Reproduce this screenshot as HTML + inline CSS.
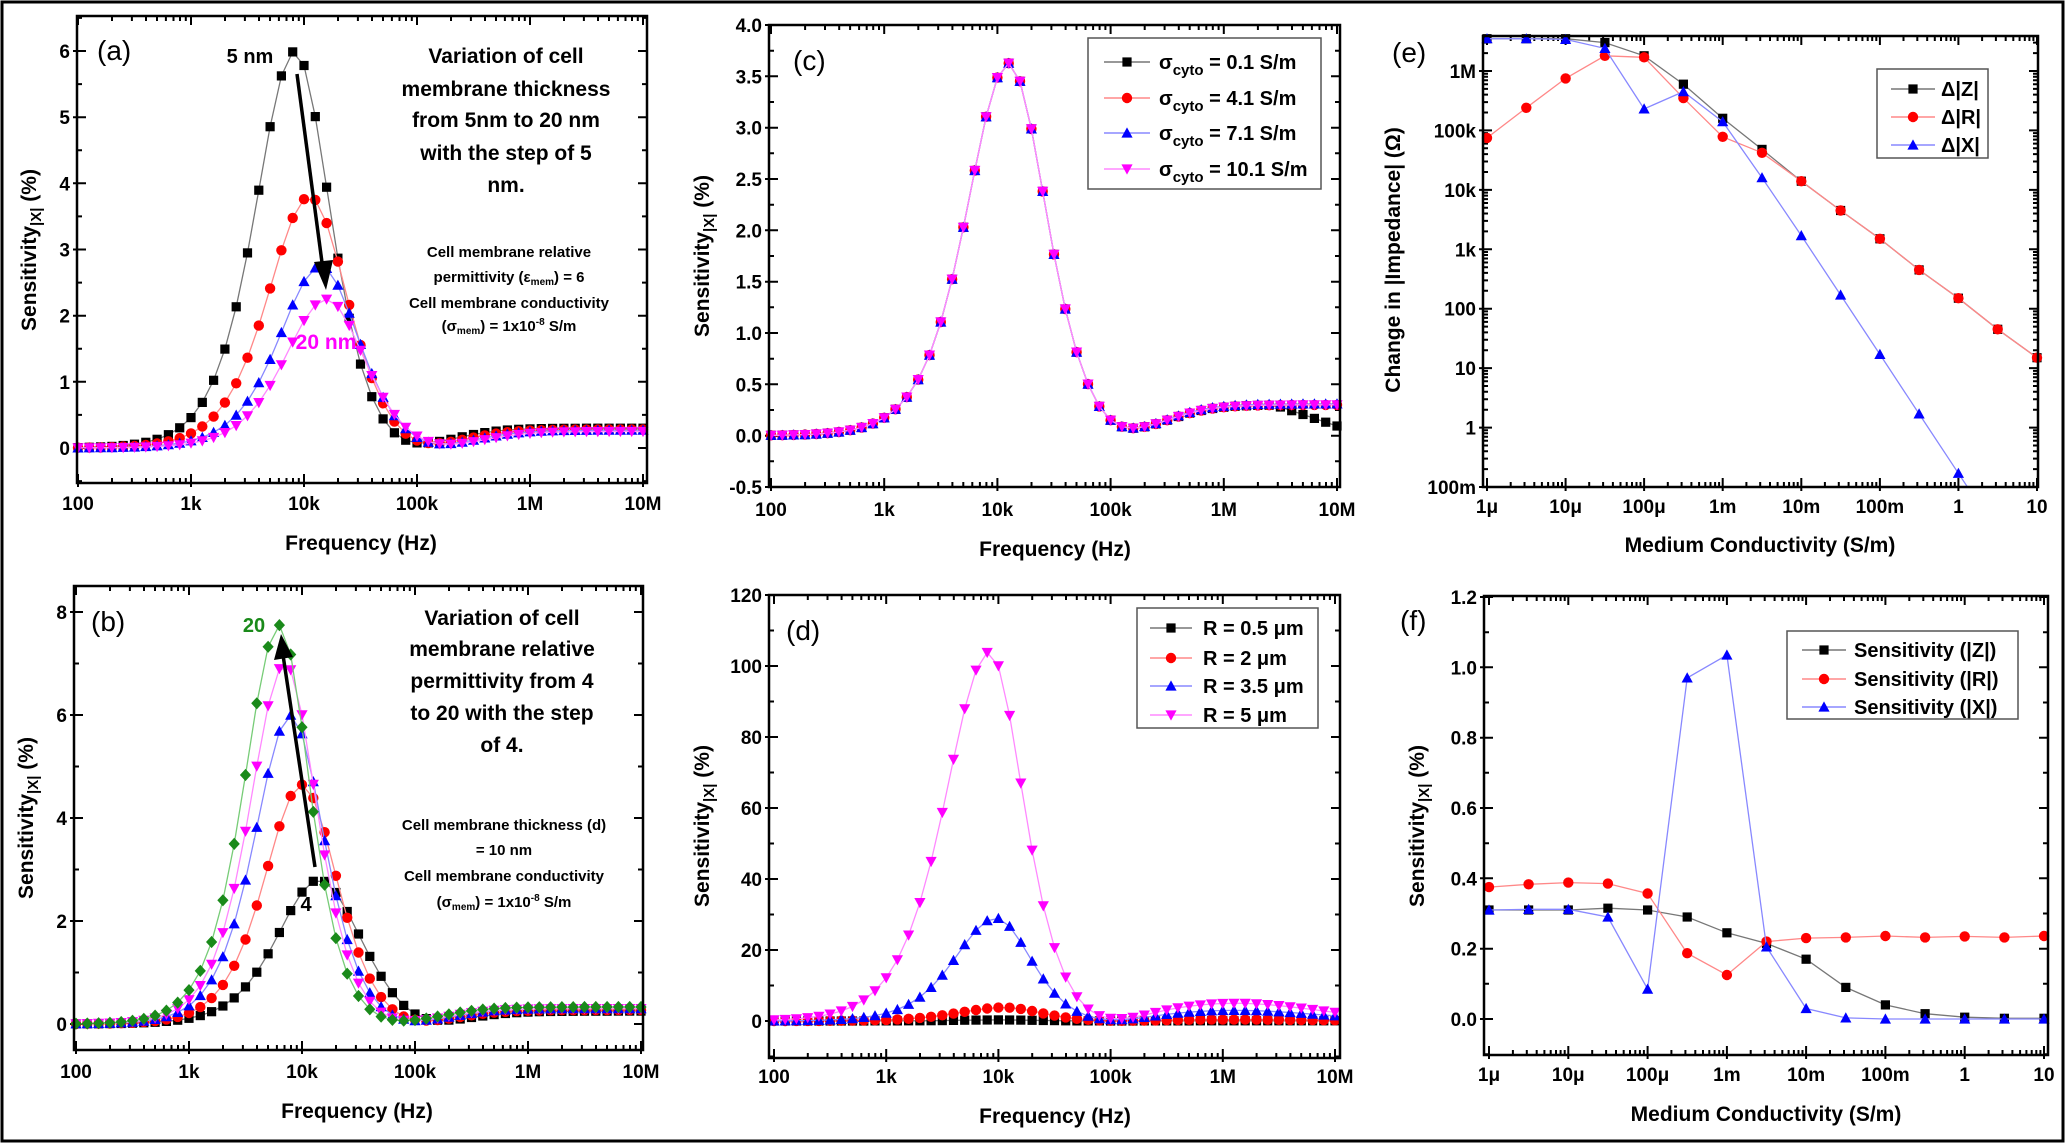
<!DOCTYPE html>
<html><head><meta charset="utf-8"><style>
html,body{margin:0;padding:0;background:#fff;overflow:hidden}
svg{display:block}
text{font-family:"Liberation Sans",Arial,sans-serif}
</style></head><body>
<svg id="s" width="2065" height="1143" viewBox="0 0 2065 1143" xmlns="http://www.w3.org/2000/svg"></svg>
<script>
var out=[];
function add(s){out.push(s);}
add('<rect x="0" y="0" width="2065" height="1143" fill="#fff"/>');
add('<rect x="2" y="2" width="2061" height="1139" fill="none" stroke="#000" stroke-width="3"/>');
var clipId=0;
function r1(v){return Math.round(v*10)/10;}
function marker(t,x,y,c){var s=4.6;x=Number(x);y=Number(y);
 if(t=='sq')return '<rect x="'+r1(x-s)+'" y="'+r1(y-s)+'" width="'+(2*s)+'" height="'+(2*s)+'" fill="'+c+'"/>';
 if(t=='ci')return '<circle cx="'+r1(x)+'" cy="'+r1(y)+'" r="'+(s+0.6)+'" fill="'+c+'"/>';
 if(t=='tu')return '<polygon points="'+r1(x)+','+r1(y-s-1)+' '+r1(x+s+1)+','+r1(y+s)+' '+r1(x-s-1)+','+r1(y+s)+'" fill="'+c+'"/>';
 if(t=='td')return '<polygon points="'+r1(x)+','+r1(y+s+1)+' '+r1(x+s+1)+','+r1(y-s)+' '+r1(x-s-1)+','+r1(y-s)+'" fill="'+c+'"/>';
 if(t=='di')return '<polygon points="'+r1(x)+','+r1(y-s-1.5)+' '+r1(x+s+1)+','+r1(y)+' '+r1(x)+','+r1(y+s+1.5)+' '+r1(x-s-1)+','+r1(y)+'" fill="'+c+'"/>';
}
function panel(P){
 var X=function(L){return P.xp0+(L-P.xl0)/(P.xl1-P.xl0)*(P.xp1-P.xp0);};
 var Y=P.ylog?function(v){var l=Math.log10(Math.max(v,1e-9));return P.yp0+(l-P.yv0)/(P.yv1-P.yv0)*(P.yp1-P.yp0);}
   :function(v){return P.yp0+(v-P.yv0)/(P.yv1-P.yv0)*(P.yp1-P.yp0);};
 var id='c'+(clipId++);
 add('<clipPath id="'+id+'"><rect x="'+P.l+'" y="'+(P.t-8)+'" width="'+(P.r-P.l+8)+'" height="'+(P.b-P.t+8)+'"/></clipPath>');
 var tk='';
 for(var d=P.xl0;d<=P.xl1+1e-9;d++){var x=r1(X(d));
  tk+='M'+x+' '+P.b+'v-9M'+x+' '+P.t+'v9M'+x+' '+P.b+'v4';
  if(d<P.xl1)for(var k=2;k<10;k++){var xm=r1(X(d+Math.log10(k)));tk+='M'+xm+' '+P.b+'v-5M'+xm+' '+P.t+'v5';}
  add('<text x="'+x+'" y="'+P.xly+'" font-size="19" font-weight="bold" text-anchor="middle">'+P.xlab[d-P.xl0]+'</text>');
 }
 if(P.ylog){for(var d=P.yv1;d<=P.yv0;d++){var y=r1(Y(Math.pow(10,d)));
   tk+='M'+P.l+' '+y+'h9M'+P.r+' '+y+'h-9M'+P.l+' '+y+'h-4';
   for(var k=2;k<10;k++){var ym=r1(Y(Math.pow(10,d+Math.log10(k))));if(ym>=P.t)tk+='M'+P.l+' '+ym+'h5M'+P.r+' '+ym+'h-5';}
   add('<text x="'+(P.l-7)+'" y="'+(y+7)+'" font-size="19" font-weight="bold" text-anchor="end">'+P.ylab[d-P.yv1]+'</text>');}
 } else {
  var i=0;for(var v=P.yt0;v<=P.yt1+1e-9;v+=P.ystep){var y=r1(Y(v));
   tk+='M'+P.l+' '+y+'h9M'+P.r+' '+y+'h-9M'+P.l+' '+y+'h-4';
   var ym=r1(Y(v+P.ystep/2));if(ym>=P.t)tk+='M'+P.l+' '+ym+'h5M'+P.r+' '+ym+'h-5';
   var ym2=r1(Y(v-P.ystep/2));if(ym2<=P.b)tk+='M'+P.l+' '+ym2+'h5M'+P.r+' '+ym2+'h-5';
   add('<text x="'+(P.l-7)+'" y="'+(y+7)+'" font-size="19" font-weight="bold" text-anchor="end">'+P.ylab[i++]+'</text>');}
 }
 add('<path d="'+tk+'" stroke="#000" stroke-width="2" fill="none"/>');
 P.series.forEach(function(S){
  var pts=S.d.map(function(p){return [X(p[0]),Y(p[1])];});
  add('<polyline clip-path="url(#'+id+')" points="'+pts.map(function(p){return r1(p[0])+','+r1(p[1]);}).join(' ')+'" fill="none" stroke="'+S.lc+'" stroke-width="1.3"/>');
  var m='';pts.forEach(function(p){if(p[1]<=P.b+2&&p[1]>=P.t-6)m+=marker(S.m,p[0],p[1],S.c);});add(m);
 });
 add('<rect x="'+P.l+'" y="'+P.t+'" width="'+(P.r-P.l)+'" height="'+(P.b-P.t)+'" fill="none" stroke="#000" stroke-width="2.5"/>');
 add('<text x="'+P.xtx+'" y="'+P.xty+'" font-size="21" font-weight="bold" text-anchor="middle">'+P.xt+'</text>');
 add('<text transform="translate('+P.ytx+','+P.yty+') rotate(-90)" font-size="21" font-weight="bold" text-anchor="middle">'+P.yt+'</text>');
 add('<text x="'+P.lbx+'" y="'+P.lby+'" font-size="28">'+P.lb+'</text>');
 if(P.leg){var g=P.leg;
  add('<rect x="'+g.x+'" y="'+g.y+'" width="'+g.w+'" height="'+g.h+'" fill="#fff" stroke="#555" stroke-width="1.5"/>');
  g.items.forEach(function(yy,k){var S=P.series[k];
   add('<line x1="'+g.lx0+'" x2="'+g.lx1+'" y1="'+yy+'" y2="'+yy+'" stroke="'+S.lc+'" stroke-width="1.5"/>');
   add(marker(S.m,(g.lx0+g.lx1)/2,yy,S.c));
   add('<text x="'+g.tx+'" y="'+(yy+7)+'" font-size="20" font-weight="bold">'+g.labels[k]+'</text>');});
 }
}
function sech2(x){var c=Math.cosh(x);return 1/(c*c);}
function fser(A,c,wl,wr,p,cut,hump){var d=[];for(var i=0;i<=50;i++){var L=2+i*0.1;
 var w=L<c?wl:wr;var v=A*sech2((L-c)/w)/(1+Math.exp((L-cut)*8));
 v+=p/(1+Math.exp(-(L-(cut+0.5))*5));
 if(hump)v+=hump*Math.exp(-0.5*Math.pow((L-6.1)/0.75,2))/(1+Math.exp(-(L-(cut+0.4))*7));
 d.push([L,v]);}return d;}
var FX=['100','1k','10k','100k','1M','10M'];
var CX=['1μ','10μ','100μ','1m','10m','100m','1','10'];
var ytSens='Sensitivity<tspan font-size="15" dy="5">|X|</tspan><tspan dy="-5"> (%)</tspan>';
panel({l:77,r:647,t:16,b:483,xl0:2,xl1:7,xp0:78,xp1:643,yv0:0,yv1:6,yp0:448,yp1:51,yt0:0,yt1:6,ystep:1,ylab:['0','1','2','3','4','5','6'],xlab:FX,xly:510,
 xt:'Frequency (Hz)',xtx:361,xty:550,yt:ytSens,ytx:36,yty:250,lb:'(a)',lbx:97,lby:60,
 series:[{m:'sq',c:'#000',lc:'#777',d:fser(6,3.92,0.47,0.42,0.3,4.85)},
 {m:'ci',c:'#f00',lc:'#f88',d:fser(3.8,4.05,0.5,0.45,0.28,4.95)},
 {m:'tu',c:'#00f',lc:'#88f',d:fser(2.75,4.15,0.5,0.45,0.27,5.05)},
 {m:'td',c:'#f0f',lc:'#f8f',d:fser(2.25,4.2,0.5,0.45,0.25,5.1)}]});
panel({l:74,r:643,t:586,b:1050,xl0:2,xl1:7,xp0:76,xp1:641,yv0:0,yv1:8,yp0:1024,yp1:612,yt0:0,yt1:8,ystep:2,ylab:['0','2','4','6','8'],xlab:FX,xly:1078,
 xt:'Frequency (Hz)',xtx:357,xty:1118,yt:ytSens,ytx:33,yty:818,lb:'(b)',lbx:91,lby:631,
 series:[{m:'sq',c:'#000',lc:'#777',d:fser(2.8,4.15,0.5,0.5,0.25,5.0)},
 {m:'ci',c:'#f00',lc:'#f88',d:fser(4.65,4.0,0.45,0.42,0.27,4.9)},
 {m:'tu',c:'#00f',lc:'#88f',d:fser(6.0,3.9,0.43,0.4,0.3,4.85)},
 {m:'td',c:'#f0f',lc:'#f8f',d:fser(7.0,3.85,0.42,0.38,0.3,4.8)},
 {m:'di',c:'#1a8a1a',lc:'#7c7',d:fser(7.75,3.8,0.42,0.36,0.33,4.75)}]});
var cb=fser(3.63,4.1,0.5,0.45,0.3,5.0);cb=cb.map(function(p){var v=p[1];if(p[0]>6.45)v=v*(1-(p[0]-6.45)*1.25);return [p[0],v];});
function sg(v){return 'σ<tspan font-size="15" dy="6">cyto</tspan><tspan dy="-6"> = '+v+' S/m</tspan>';}
panel({l:769,r:1340,t:25,b:487,xl0:2,xl1:7,xp0:771,xp1:1337,yv0:4,yv1:-0.5,yp0:25,yp1:487,yt0:-0.5,yt1:4,ystep:0.5,ylab:['-0.5','0.0','0.5','1.0','1.5','2.0','2.5','3.0','3.5','4.0'],xlab:FX,xly:516,
 xt:'Frequency (Hz)',xtx:1055,xty:556,yt:ytSens,ytx:709,yty:256,lb:'(c)',lbx:793,lby:70,
 series:[{m:'sq',c:'#000',lc:'#777',d:cb},
 {m:'ci',c:'#f00',lc:'#f88',d:fser(3.63,4.1,0.5,0.45,0.3,5.0)},
 {m:'tu',c:'#00f',lc:'#88f',d:fser(3.63,4.1,0.5,0.45,0.31,5.0)},
 {m:'td',c:'#f0f',lc:'#f8f',d:fser(3.63,4.1,0.5,0.45,0.3,5.0)}],
 leg:{x:1088,y:38,w:233,h:151,lx0:1104,lx1:1150,tx:1159,items:[62,98,133,169],labels:[sg('0.1'),sg('4.1'),sg('7.1'),sg('10.1')]}});
function um(v){return 'R = '+v+' μm';}
panel({l:769,r:1340,t:595,b:1058,xl0:2,xl1:7,xp0:774,xp1:1335,yv0:0,yv1:120,yp0:1021,yp1:595,yt0:0,yt1:120,ystep:20,ylab:['0','20','40','60','80','100','120'],xlab:FX,xly:1083,
 xt:'Frequency (Hz)',xtx:1055,xty:1123,yt:ytSens,ytx:709,yty:826,lb:'(d)',lbx:786,lby:640,
 series:[{m:'sq',c:'#000',lc:'#777',d:fser(0.3,4.0,0.5,0.45,0.05,4.9)},
 {m:'ci',c:'#f00',lc:'#f88',d:fser(3.8,4.05,0.55,0.45,0,4.9,0.4)},
 {m:'tu',c:'#00f',lc:'#88f',d:fser(29,3.98,0.5,0.42,0,4.85,3)},
 {m:'td',c:'#f0f',lc:'#f8f',d:fser(104,3.92,0.53,0.41,0,4.85,5)}],
 leg:{x:1137,y:608,w:181,h:120,lx0:1150,lx1:1192,tx:1203,items:[628,658,686,715],labels:[um('0.5'),um('2'),um('3.5'),um('5')]}});
var Lx=[];for(var i=0;i<15;i++)Lx.push(-6+i*0.5);
function mk(a){return a.map(function(v,i){return [Lx[i],v];});}
panel({l:1483,r:2038,t:36,b:487,xl0:-6,xl1:1,xp0:1487,xp1:2037,ylog:true,yv0:6,yv1:-1,yp0:71,yp1:487,ylab:['100m','1','10','100','1k','10k','100k','1M'],xlab:CX,xly:513,
 xt:'Medium Conductivity (S/m)',xtx:1760,xty:552,yt:'Change in |Impedance| (Ω)',ytx:1400,yty:260,lb:'(e)',lbx:1392,lby:62,
 series:[{m:'sq',c:'#000',lc:'#777',d:mk([3.5e6,3.5e6,3.5e6,3.0e6,1.8e6,6e5,1.6e5,4.8e4,1.4e4,4.5e3,1.5e3,450,150,45,15])},
 {m:'ci',c:'#f00',lc:'#f88',d:mk([7.5e4,2.4e5,7.5e5,1.8e6,1.7e6,3.5e5,7.8e4,4.2e4,1.4e4,4.5e3,1.5e3,450,150,45,15])},
 {m:'tu',c:'#00f',lc:'#88f',d:mk([3.5e6,3.5e6,3.4e6,2.4e6,2.3e5,4.5e5,1.4e5,1.6e4,1.7e3,170,17,1.7,0.17,0.017,0.0017])}],
 leg:{x:1877,y:69,w:111,h:89,lx0:1891,lx1:1935,tx:1941,items:[89,117,145],labels:['Δ|Z|','Δ|R|','Δ|X|']}});
panel({l:1484,r:2048,t:596,b:1055,xl0:-6,xl1:1,xp0:1489,xp1:2044,yv0:0,yv1:1.2,yp0:1019,yp1:597,yt0:0,yt1:1.2,ystep:0.2,ylab:['0.0','0.2','0.4','0.6','0.8','1.0','1.2'],xlab:CX,xly:1081,
 xt:'Medium Conductivity (S/m)',xtx:1766,xty:1121,yt:ytSens,ytx:1424,yty:826,lb:'(f)',lbx:1400,lby:630,
 series:[{m:'sq',c:'#000',lc:'#777',d:mk([.31,.31,.31,.315,.31,.29,.245,.215,.17,.09,.04,.015,.005,.002,.002])},
 {m:'ci',c:'#f00',lc:'#f88',d:mk([.375,.383,.388,.385,.357,.187,.125,.22,.23,.232,.236,.232,.235,.232,.236])},
 {m:'tu',c:'#00f',lc:'#88f',d:mk([.31,.312,.312,.29,.085,.97,1.035,.205,.03,.003,0,0,0,0,0])}],
 leg:{x:1787,y:631,w:231,h:88,lx0:1802,lx1:1846,tx:1854,items:[650,679,707],labels:['Sensitivity (|Z|)','Sensitivity (|R|)','Sensitivity (|X|)']}});
function tl(x,y,s,fs,c){add('<text x="'+x+'" y="'+y+'" font-size="'+fs+'" font-weight="bold" text-anchor="middle" fill="'+(c||'#000')+'">'+s+'</text>');}
['Variation of cell','membrane thickness','from 5nm to 20 nm','with the step of 5','nm.'].forEach(function(s,i){tl(506,[63,96,127,160,192][i],s,21);});
tl(509,257,'Cell membrane relative',15);
tl(509,282,'permittivity (ε<tspan font-size="10" dy="3">mem</tspan><tspan dy="-3">) = 6</tspan>',15);
tl(509,308,'Cell membrane conductivity',15);
tl(509,331,'(σ<tspan font-size="10" dy="3">mem</tspan><tspan dy="-3">) = 1x10</tspan><tspan font-size="10" dy="-6">-8</tspan><tspan dy="6"> S/m</tspan>',15);
tl(250,63,'5 nm',20);
tl(326,349,'20 nm',21,'#f0f');
add('<line x1="297" y1="74" x2="323" y2="270" stroke="#000" stroke-width="3.5"/><polygon points="326,290 314,262 333,260" fill="#000"/>');
['Variation of cell','membrane relative','permittivity from 4','to 20 with the step','of 4.'].forEach(function(s,i){tl(502,[625,656,688,720,752][i],s,21);});
tl(504,830,'Cell membrane thickness (d)',15);
tl(504,855,'= 10 nm',15);
tl(504,881,'Cell membrane conductivity',15);
tl(504,907,'(σ<tspan font-size="10" dy="3">mem</tspan><tspan dy="-3">) = 1x10</tspan><tspan font-size="10" dy="-6">-8</tspan><tspan dy="6"> S/m</tspan>',15);
tl(254,632,'20',20,'#1a8a1a');
tl(306,911,'4',20);
add('<line x1="315" y1="867" x2="283" y2="655" stroke="#000" stroke-width="3.5"/><polygon points="281,634 274,660 293,657" fill="#000"/>');
document.getElementById('s').innerHTML=out.join('');
</script>
</body></html>
